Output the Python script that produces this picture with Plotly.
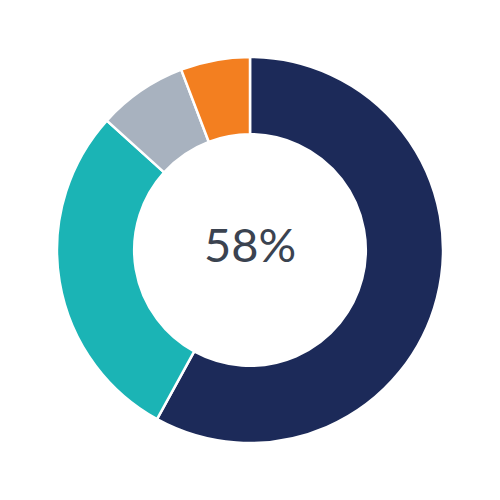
import plotly.graph_objects as go

labels = ["A", "B", "C", "D"]
values = [58, 28.7, 7.5, 5.8]
colors = ["#1c2a59", "#1bb4b5", "#a8b2bf", "#f37f20"]
center_text = "58%"

fig = go.Figure(
    data=[
        go.Pie(
            labels=labels,
            values=values,
            hole=0.6,
            sort=False,
            direction="clockwise",
            rotation=0,
            marker=dict(colors=colors, line=dict(color="white", width=2.5)),
            textinfo="none",
            hoverinfo="label+percent",
        )
    ]
)

fig.add_annotation(
    text=center_text,
    x=0.5,
    y=0.5,
    xref="paper",
    yref="paper",
    yshift=6,
    showarrow=False,
    font=dict(family="Lato", size=47, color="#3b4350"),
)

# the page adds an 8px body margin, so shift the plot area up/left
fig.update_layout(
    width=500,
    height=500,
    margin=dict(l=49, r=65, t=49, b=65),
    showlegend=False,
    paper_bgcolor="white",
    plot_bgcolor="white",
)
fig.write_html("out.html")
